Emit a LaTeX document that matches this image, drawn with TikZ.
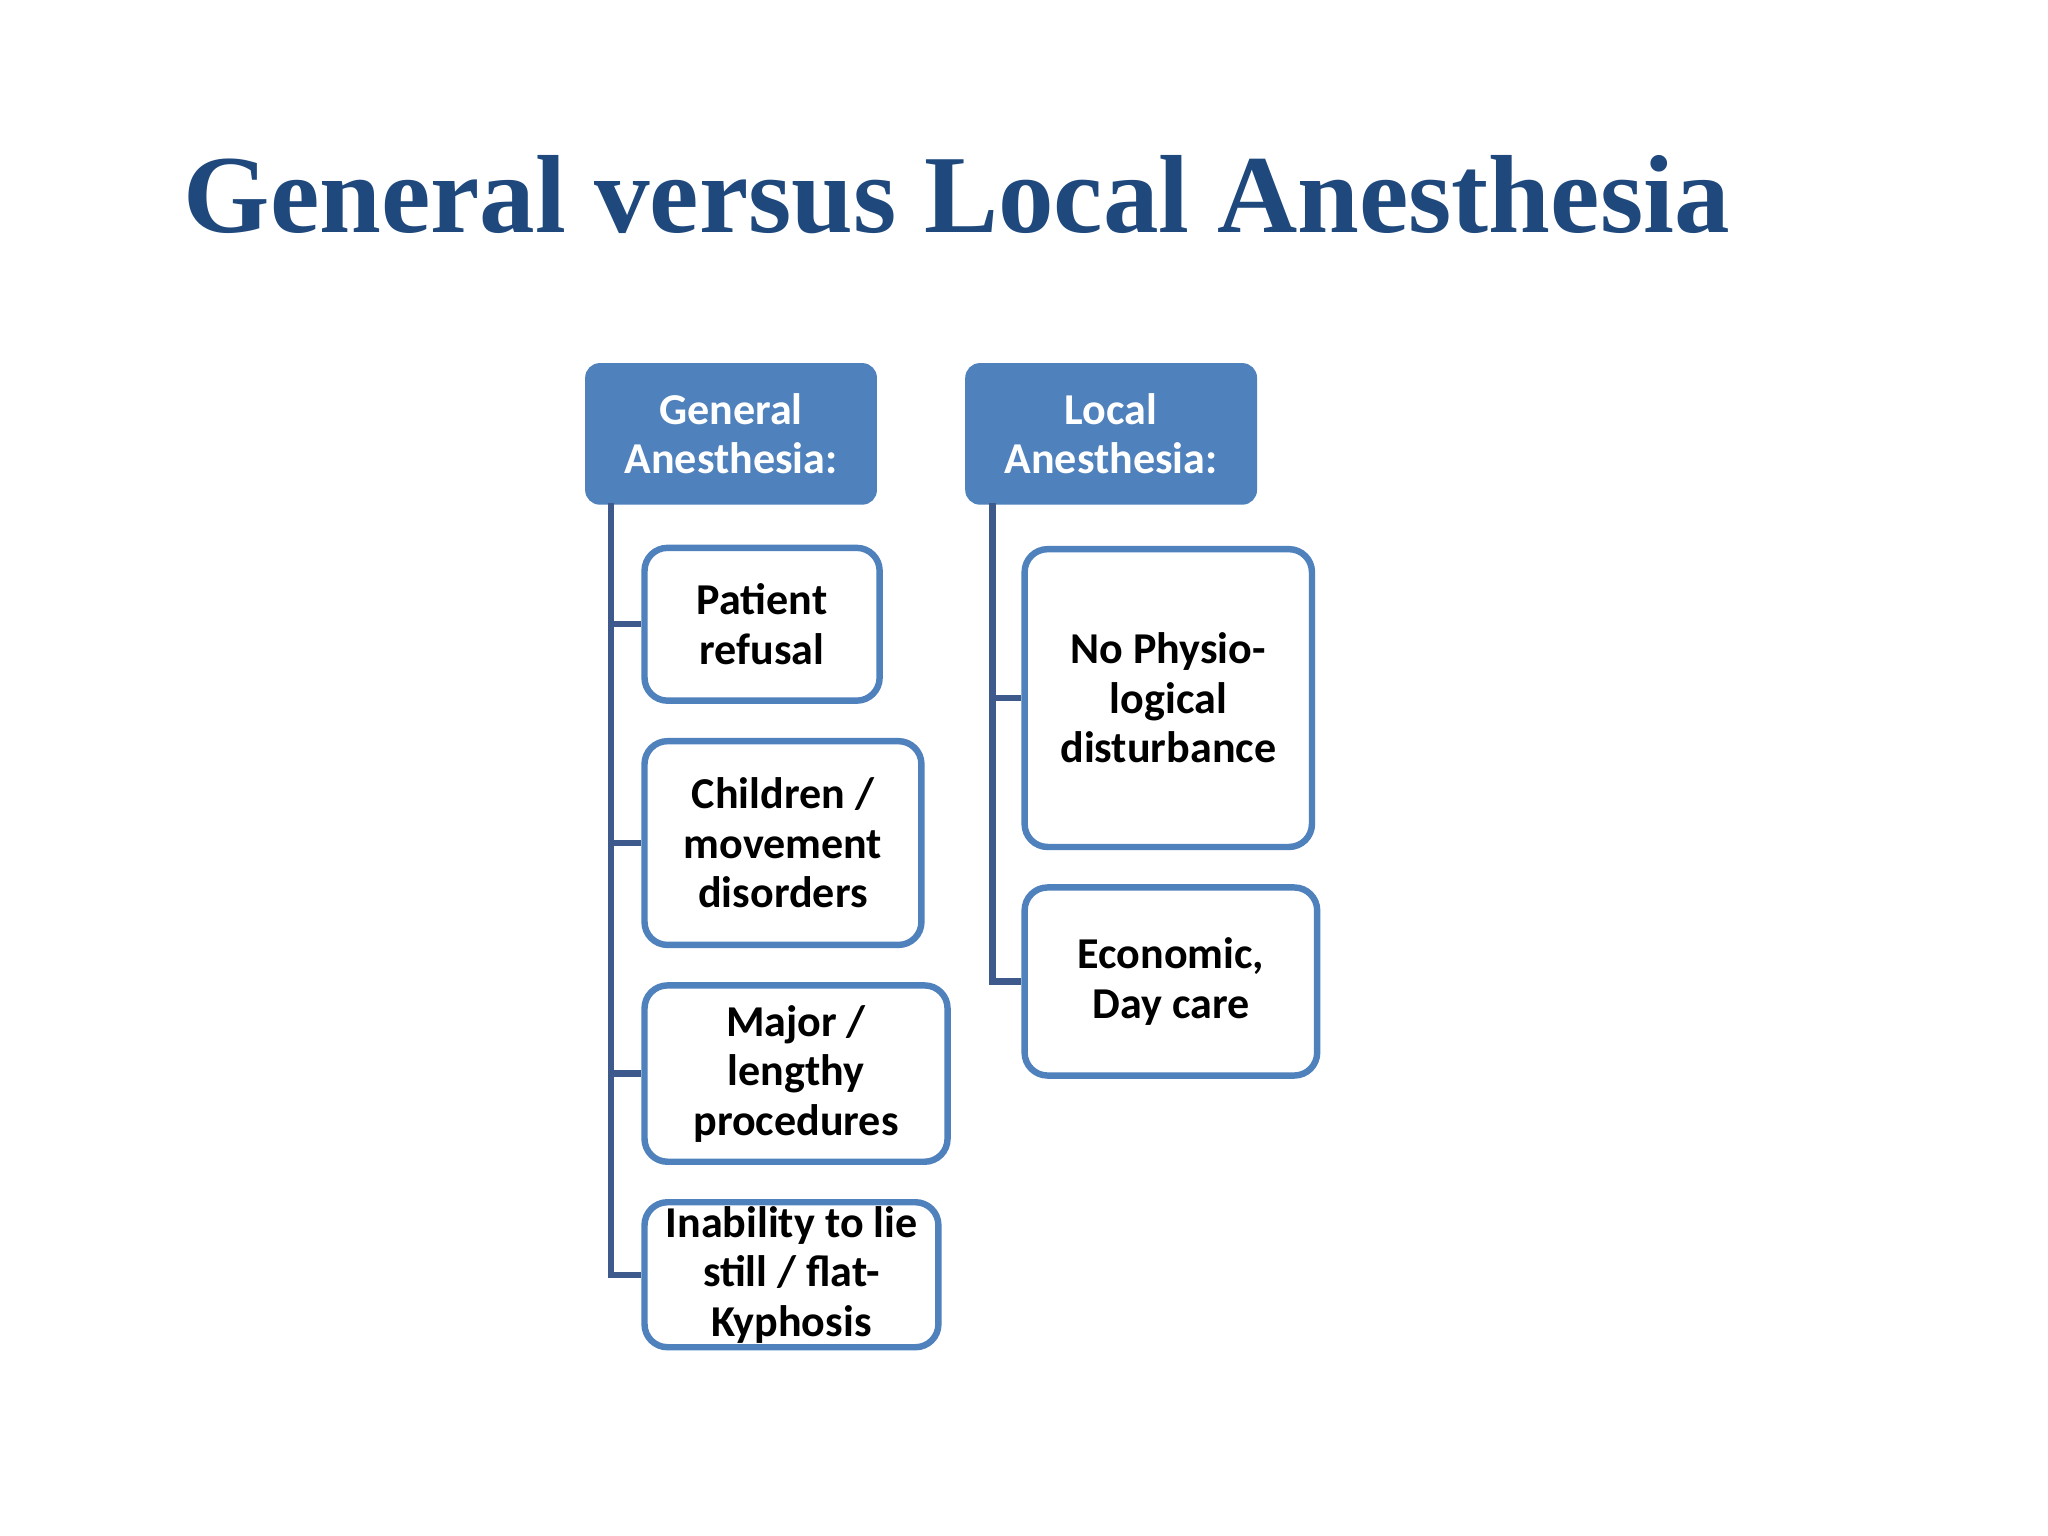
\documentclass[tikz,border=0pt]{standalone}
\usepackage{fontspec}
\setmainfont{Carlito}
\newfontfamily\titlefont{Liberation Serif}
\usetikzlibrary{positioning}
\definecolor{titleblue}{RGB}{31,73,125}
\definecolor{headblue}{RGB}{79,129,189}
\definecolor{linkblue}{RGB}{62,90,140}
\tikzset{
  head/.style={fill=headblue,draw=headblue,rounded corners=3pt,text=white,align=center,
    font=\bfseries\fontsize{9.6pt}{10.8pt}\selectfont,anchor=north west,inner sep=0pt},
  item/.style={draw=headblue,line width=1.4pt,fill=white,rounded corners=5pt,align=center,
    font=\bfseries\fontsize{9.6pt}{10.8pt}\selectfont,anchor=north west,inner sep=0pt},
  link/.style={draw=linkblue,line width=1.4pt}
}
\begin{document}
\begin{tikzpicture}
\useasboundingbox[fill=white] (0,0) rectangle (15.68,-11.76);
\node[anchor=base west,inner sep=0pt,text=titleblue,font=\titlefont\bfseries\fontsize{24.2pt}{28pt}\selectfont] (title) at (1.40,-1.78) {General versus Local Anesthesia};
% headers
\node[head,minimum width=2.22cm,minimum height=1.07cm] (gen) at (4.48,-2.78) {General\\Anesthesia:};
\node[head,minimum width=2.22cm,minimum height=1.07cm] (loc) at (7.39,-2.78) {Local\\Anesthesia:};
% general items
\node[item,minimum width=1.80cm,minimum height=1.17cm] (refusal) at (4.91,-4.17) {Patient\\refusal};
\node[item,minimum width=2.12cm,minimum height=1.56cm] (children) at (4.91,-5.65) {Children /\\movement\\disorders};
\node[item,minimum width=2.32cm,minimum height=1.35cm] (major) at (4.91,-7.52) {Major /\\lengthy\\procedures};
\node[item,minimum width=2.25cm,minimum height=1.11cm] (inability) at (4.91,-9.18) {Inability to lie\\still / flat-\\Kyphosis};
% local items
\node[item,minimum width=2.20cm,minimum height=2.28cm] (nophys) at (7.82,-4.18) {No Physio-\\logical\\disturbance};
\node[item,minimum width=2.24cm,minimum height=1.44cm] (economic) at (7.82,-6.77) {Economic,\\Day care};
% connectors
\coordinate (gtop) at (4.68,-3.85);
\coordinate (ltop) at (7.60,-3.85);
\draw[link] (gtop) |- (inability.west);
\foreach \n in {refusal,children,major}
  \draw[link] (gtop |- \n.west) -- (\n.west);
\draw[link] (ltop) |- (economic.west);
\draw[link] (ltop |- nophys.west) -- (nophys.west);
\end{tikzpicture}
\end{document}
